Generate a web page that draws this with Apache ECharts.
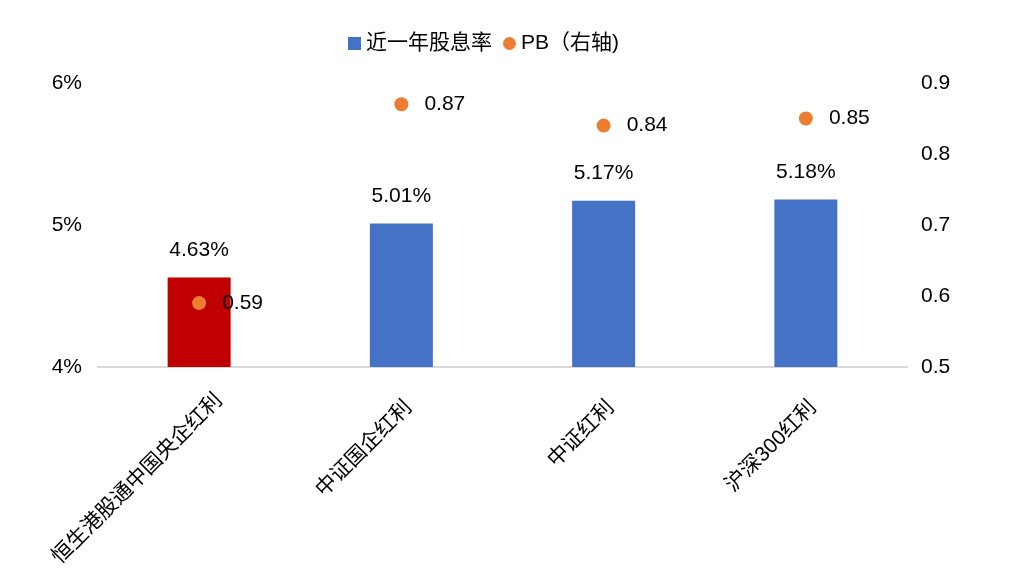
<!DOCTYPE html>
<html><head><meta charset="utf-8">
<script src="https://cdn.jsdelivr.net/npm/echarts@6/dist/echarts.min.js"></script>
<style>html,body{margin:0;padding:0;background:#fff}#c{width:1020px;height:584px}</style>
</head><body><div id="c"></div>
<script>
const categories = ['恒生港股通中国央企红利', '中证国企红利', '中证红利', '沪深300红利'];
const dividendYield = [4.63, 5.01, 5.17, 5.18];
const pbValues = [0.59, 0.87, 0.84, 0.85];
const leftTicks = [4, 5, 6];
const rightTicks = [0.5, 0.6, 0.7, 0.8, 0.9];
const highlightIndex = 0;

const FONT = '"Liberation Sans", "Noto Sans CJK SC", sans-serif';
const FS = 21;
const chart = echarts.init(document.getElementById('c'));
chart.setOption({
  backgroundColor: '#fff',
  textStyle: { fontFamily: FONT },
  legend: {
    top: 28, left: 343,
    itemWidth: 13, itemHeight: 13, itemGap: 11,
    textStyle: { fontSize: FS, color: '#000', fontFamily: FONT },
    data: [
      { name: '近一年股息率', icon: 'rect' },
      { name: 'PB（右轴)', icon: 'circle' }
    ]
  },
  grid: { left: 98, right: 113, top: 83, bottom: 217 },
  xAxis: {
    type: 'category',
    data: categories,
    axisLine: { lineStyle: { color: '#D9D9D9', width: 2 } },
    axisTick: { show: false },
    axisLabel: {
      rotate: 45, fontSize: FS, color: '#000', margin: 30, verticalAlign: 'top', fontFamily: FONT, interval: 0,
      formatter: (v, i) => i === 0 ? '{f|' + v + '}' : v,
      rich: { f: { fontSize: FS, color: '#000', fontFamily: FONT, padding: [4, -14, 0, 0] } }
    }
  },
  yAxis: [
    {
      type: 'value', min: leftTicks[0], max: leftTicks[leftTicks.length - 1], interval: 1,
      splitLine: { show: false }, axisLine: { show: false }, axisTick: { show: false },
      axisLabel: { formatter: v => v + '%', fontSize: FS, color: '#000', margin: 16, fontFamily: FONT }
    },
    {
      type: 'value', min: rightTicks[0], max: rightTicks[rightTicks.length - 1], interval: 0.1,
      splitLine: { show: false }, axisLine: { show: false }, axisTick: { show: false },
      axisLabel: { formatter: v => v.toFixed(1), fontSize: FS, color: '#000', margin: 14, fontFamily: FONT }
    }
  ],
  series: [
    {
      name: '近一年股息率', type: 'bar', yAxisIndex: 0, barWidth: 63,
      itemStyle: { color: '#4472C4' },
      data: dividendYield.map((v, i) => i === highlightIndex ? { value: v, itemStyle: { color: '#C00000' } } : v),
      label: { show: true, position: 'top', distance: 17, formatter: p => p.value.toFixed(2) + '%', fontSize: FS, color: '#000', fontFamily: FONT }
    },
    {
      name: 'PB（右轴)', type: 'scatter', yAxisIndex: 1, symbol: 'circle', symbolSize: 14,
      itemStyle: { color: '#ED7D31', opacity: 1 },
      data: pbValues,
      z: 5,
      label: { show: true, position: 'right', distance: 16, formatter: p => p.value.toFixed(2), fontSize: FS, color: '#000', fontFamily: FONT }
    }
  ]
});
</script></body></html>
